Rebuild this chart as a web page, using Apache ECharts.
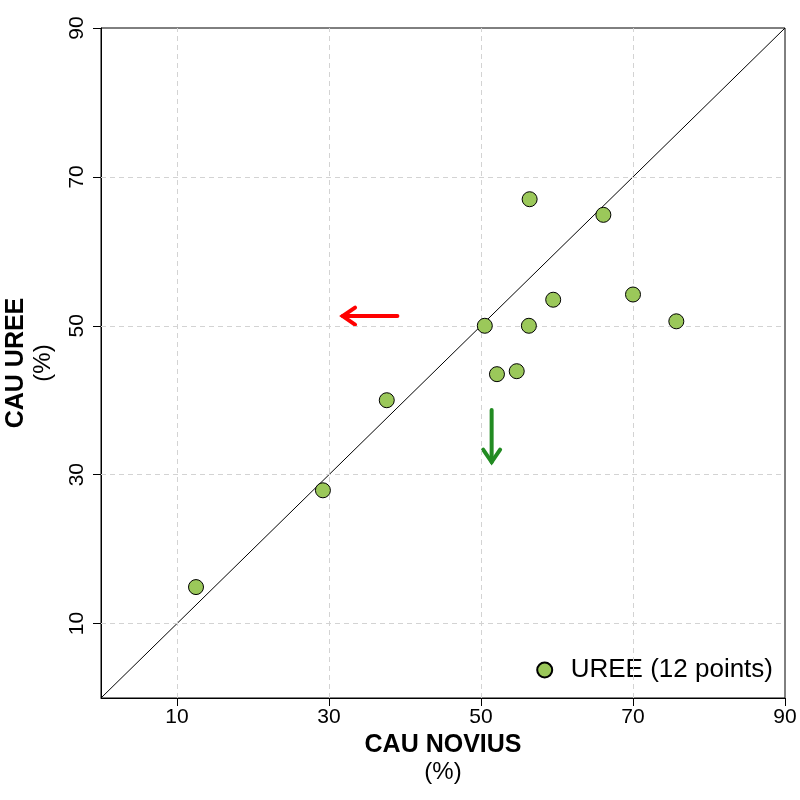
<!DOCTYPE html>
<html>
<head>
    <meta charset="utf-8">
    <title>CAU UREE vs CAU NOVIUS</title>
    <script src="https://cdn.jsdelivr.net/npm/echarts@6/dist/echarts.min.js"></script>
    <style>
        html, body { margin: 0; padding: 0; background: #fff; }
        #chart { width: 800px; height: 800px; }
    </style>
</head>
<body>
    <div id="chart"></div>
    <script type="text/javascript">
        // data
        var novius = [12.5, 29.2, 37.6, 50.5, 52.1, 54.7, 56.4, 56.3, 59.5, 66.1, 70.0, 75.7];
        var uree = [14.9, 27.9, 40.0, 50.0, 43.5, 43.9, 67.0, 50.0, 53.5, 64.9, 54.2, 50.6];
        var tickValues = [10, 30, 50, 70, 90];
        var gridValues = [10, 30, 50, 70];
        var seriesName = 'UREE (12 points)';
        // arrows: [x from, y from, x to, y to, colour]
        var arrows = [
            [39.0, 51.3, 31.8, 51.3, '#ff0000'],
            [51.4, 38.7, 51.4, 31.7, '#228b22']
        ];

        var font = 'Liberation Sans';
        var points = [];
        for (var i = 0; i < novius.length; i++) {
            points.push([novius[i], uree[i]]);
        }

        var gridLines = [];
        gridValues.forEach(function (v) {
            gridLines.push({ xAxis: v });
            gridLines.push({ yAxis: v });
        });

        var titleRich = {
            b: { fontSize: 25, fontWeight: 'bold', color: '#000', fontFamily: font, lineHeight: 27 },
            n: { fontSize: 24, color: '#000', fontFamily: font, lineHeight: 27 }
        };

        var myChart = echarts.init(document.getElementById('chart'));

        var option = {
            animation: false,
            textStyle: { fontFamily: font },
            grid: {
                left: 101, right: 15, top: 28, bottom: 102,
                outerBoundsMode: 'none',
                containLabel: false,
                show: true, borderColor: '#000', borderWidth: 1
            },
            legend: {
                right: 22, top: 652,
                itemWidth: 42, itemHeight: 15, itemGap: 8,
                textStyle: { fontSize: 26, color: '#000', fontFamily: font },
                data: [{ name: seriesName, icon: 'circle' }]
            },
            xAxis: {
                type: 'value', min: 0, max: 90,
                name: '{b|CAU NOVIUS}\n{n|(%)}',
                nameLocation: 'middle', nameGap: 34,
                nameTextStyle: { rich: titleRich },
                axisLine: { lineStyle: { color: '#000' } },
                axisTick: { customValues: tickValues, length: 8, lineStyle: { color: '#000' } },
                axisLabel: { customValues: tickValues, fontSize: 21, color: '#000', margin: 9 },
                splitLine: { show: false }
            },
            yAxis: {
                type: 'value', min: 0, max: 90,
                name: '{b|CAU UREE}\n{n|(%)}',
                nameLocation: 'middle', nameGap: 44,
                nameTextStyle: { rich: titleRich },
                axisLine: { lineStyle: { color: '#000' } },
                axisTick: { customValues: tickValues, length: 8, lineStyle: { color: '#000' } },
                axisLabel: { customValues: tickValues, fontSize: 21, color: '#000', rotate: 90, margin: 13 },
                splitLine: { show: false }
            },
            series: [
                {
                    type: 'line',
                    data: [[0, 0], [90, 90]],
                    showSymbol: false,
                    silent: true,
                    lineStyle: { color: '#000', width: 1 },
                    markLine: {
                        silent: true,
                        symbol: 'none',
                        label: { show: false },
                        lineStyle: { color: '#d3d3d3', type: [5, 4], width: 1 },
                        data: gridLines
                    },
                    z: 3
                },
                {
                    type: 'custom',
                    silent: true,
                    data: arrows,
                    renderItem: function (params, api) {
                        var a = api.coord([api.value(0), api.value(1)]);
                        var b = api.coord([api.value(2), api.value(3)]);
                        var c = arrows[params.dataIndex][4];
                        var ang = Math.atan2(b[1] - a[1], b[0] - a[0]);
                        var h = 15, spread = 0.6;
                        var w1 = [b[0] - h * Math.cos(ang - spread), b[1] - h * Math.sin(ang - spread)];
                        var w2 = [b[0] - h * Math.cos(ang + spread), b[1] - h * Math.sin(ang + spread)];
                        var st = { stroke: c, lineWidth: 4, fill: null, lineCap: 'round', lineJoin: 'miter' };
                        return {
                            type: 'group',
                            children: [
                                { type: 'polyline', shape: { points: [a, b] }, style: st },
                                { type: 'polyline', shape: { points: [w1, b, w2] }, style: st }
                            ]
                        };
                    },
                    z: 4
                },
                {
                    name: seriesName,
                    type: 'scatter',
                    data: points,
                    symbol: 'circle',
                    symbolSize: 15,
                    itemStyle: { color: '#9bc85a', borderColor: '#000', borderWidth: 1, opacity: 1 },
                    z: 5
                }
            ]
        };

        myChart.setOption(option);
    </script>
</body>
</html>
